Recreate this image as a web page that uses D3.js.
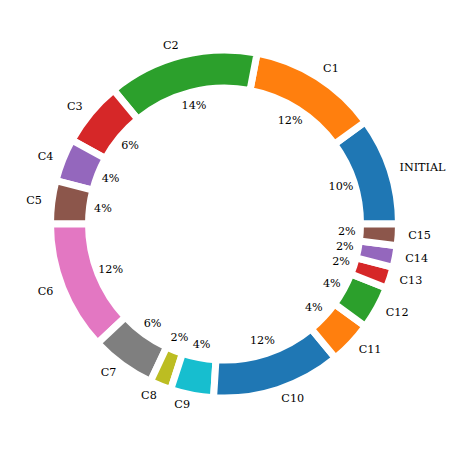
<!DOCTYPE html>
<html>
<head>
<meta charset="utf-8">
<script src="https://cdn.jsdelivr.net/npm/d3@7"></script>
<style>
  body { margin: 0; background: white; }
  text { font-family: "DejaVu Serif", serif; font-size: 11.2px; fill: #000; }
</style>
</head>
<body>
<div id="container"></div>
<script>
// donut data (percent of total)
let names = ["INITIAL", "C1", "C2", "C3", "C4", "C5", "C6", "C7", "C8", "C9", "C10", "C11", "C12", "C13", "C14", "C15"];
let values = [10, 12, 14, 6, 4, 4, 12, 6, 2, 4, 12, 4, 4, 2, 2, 2];
let colors = ["#1f77b4", "#ff7f0e", "#2ca02c", "#d62728", "#9467bd", "#8c564b", "#e377c2", "#7f7f7f", "#bcbd22", "#17becf"];

let w = 454;
let h = 449;
let cx = 224.5;
let cy = 224;
let rOuter = 174;
let rInner = 136;
let labelR = 184;
let pctR = 122.5;

let viz = d3.select("#container")
    .append("svg")
    .attr("width", w)
    .attr("height", h);

let data = names.map(function(n, i){ return {name: n, value: values[i]}; });
let total = d3.sum(values);

// matplotlib style: start at 3 o'clock and go counterclockwise
let pie = d3.pie()
    .value(d => d.value)
    .sort(null)
    .startAngle(Math.PI / 2)
    .endAngle(Math.PI / 2 - 2 * Math.PI);

let arcs = pie(data);

let arc = d3.arc().innerRadius(rInner).outerRadius(rOuter);
let color = d3.scaleOrdinal().domain(names).range(colors);

let g = viz.append("g").attr("transform", "translate(" + cx + "," + cy + ")");

g.selectAll(".wedge")
    .data(arcs)
    .enter()
    .append("path")
    .classed("wedge", true)
    .attr("d", arc)
    .attr("fill", d => color(d.data.name))
    .attr("stroke", "white")
    .attr("stroke-width", 7)
    .attr("stroke-linejoin", "miter");

// mid angle in screen coordinates (d3 angle: clockwise from north)
function mid(d){ return (d.startAngle + d.endAngle) / 2; }

// category labels outside the ring
g.selectAll(".label")
    .data(arcs)
    .enter()
    .append("text")
    .classed("label", true)
    .attr("x", d => labelR * Math.sin(mid(d)))
    .attr("y", d => -labelR * Math.cos(mid(d)))
    .attr("text-anchor", d => Math.sin(mid(d)) > 0 ? "start" : "end")
    .attr("dominant-baseline", "central")
    .text(d => d.data.name);

// percentages inside the ring
g.selectAll(".pct")
    .data(arcs)
    .enter()
    .append("text")
    .classed("pct", true)
    .attr("x", d => pctR * Math.sin(mid(d)))
    .attr("y", d => -pctR * Math.cos(mid(d)))
    .attr("text-anchor", "middle")
    .attr("dominant-baseline", "central")
    .text(d => Math.round(d.data.value / total * 100) + "%");
</script>
</body>
</html>
